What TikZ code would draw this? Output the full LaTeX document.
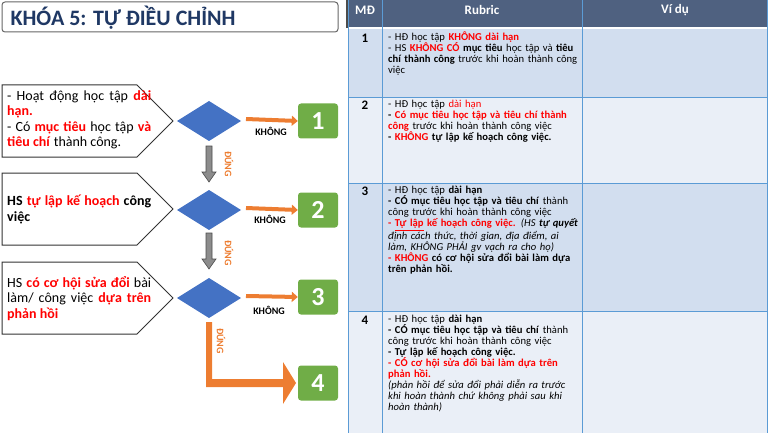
\documentclass[tikz,border=0pt]{standalone}
\usepackage{fontspec}
\setmainfont{Carlito}
\usetikzlibrary{arrows.meta}
\definecolor{hdr}{HTML}{4F6180}
\definecolor{rowA}{HTML}{D2DEEF}
\definecolor{rowB}{HTML}{EAEFF7}
\definecolor{tline}{HTML}{5B9BD5}
\definecolor{dia}{HTML}{4472C4}
\definecolor{grn}{HTML}{70AD47}
\definecolor{org}{HTML}{ED7D31}
\definecolor{ttl}{HTML}{1F3864}
\newcommand{\R}[1]{\textcolor{red}{\textbf{#1}}}
\tikzset{
 pent/.style={draw=black!80,line width=1pt,fill=white},
 dmd/.style={fill=dia},
 gbox/.style={fill=grn,rounded corners=3pt,minimum width=40pt,minimum height=35pt,text=white,font=\bfseries\fontsize{26}{26}\selectfont,inner sep=0pt},
 oarr/.style={org,line width=4pt,-{Triangle[length=6pt,width=10pt]}},
 garr/.style={draw=black!70,fill=black!45,line width=0.6pt},
 lbl/.style={font=\bfseries\fontsize{10}{10}\selectfont},
 olbl/.style={font=\bfseries\fontsize{10}{10}\selectfont,text=org,rotate=-90},
 cell/.style={anchor=north west,inner sep=0pt,text width=190pt,align=left,font=\fontsize{10.6}{11}\selectfont},
 btxt/.style={anchor=north west,inner sep=0pt,text width=144pt,align=justify,font=\fontsize{14}{15.5}\selectfont}
}
\begin{document}
\begin{tikzpicture}[x=1pt,y=-1pt]
\useasboundingbox (0,0) rectangle (768,433);
% title
\draw[black!60,line width=1pt,fill=white,rounded corners=3pt] (2,2) rectangle (338,32);
\node[anchor=west,text=ttl,font=\bfseries\fontsize{22}{22}\selectfont] (title) at (7,18) {KHÓA 5: TỰ ĐIỀU CHỈNH};
% table
\fill[hdr] (348,0) rectangle (768,28);
\fill[rowA] (348,28) rectangle (768,97);
\fill[rowB] (348,97) rectangle (768,183);
\fill[rowA] (348,183) rectangle (768,311);
\fill[rowB] (348,311) rectangle (768,433);
\draw[white,line width=1.5pt] (348,28)--(768,28);
\draw[tline,line width=0.8pt] (348,97)--(768,97) (348,183)--(768,183) (348,311)--(768,311);
\draw[tline,line width=0.8pt] (382,0)--(382,433) (582,0)--(582,433) (348,0)--(348,433) (767,0)--(767,433);
\draw[black!70,line width=2.5pt] (347,0)--(347,28);
\node[text=white,font=\bfseries\fontsize{13}{13}\selectfont] (h1) at (365,10) {MĐ};
\node[text=white,font=\bfseries\fontsize{13}{13}\selectfont] (h2) at (482,10) {Rubric};
\node[text=white,font=\bfseries\fontsize{13}{13}\selectfont] (h3) at (675,10) {Ví dụ};
\foreach \n/\y in {1/38,2/105,3/191,4/320}
  \node[font=\bfseries\fontsize{13}{13}\selectfont] (m\n) at (365,\y) {\n};
\node[cell] (c1) at (388,32) {- HĐ học tập \R{KHÔNG dài hạn}\\- HS \R{KHÔNG CÓ} \textbf{mục tiêu} học tập và \textbf{tiêu chí thành công} trước khi hoàn thành công việc};
\node[cell] (c2) at (388,100) {- HĐ học tập \textcolor{red}{dài hạn}\\\textbf{- }\R{Có mục tiêu học tập và tiêu chí thành công} trước khi hoàn thành công việc\\\textbf{- }\R{KHÔNG} \textbf{tự lập kế hoạch công việc.}};
\node[cell] (c3) at (388,186) {- HĐ học tập \textbf{dài hạn}\\\textbf{- CÓ mục tiêu học tập và tiêu chí} thành công trước khi hoàn thành công việc\\\R{- \underline{Tự lập} kế hoạch công việc.} \textit{(HS \textbf{tự quyết} định cách thức, thời gian, địa điểm, ai làm, KHÔNG PHẢI gv vạch ra cho họ)}\\\R{- KHÔNG} \textbf{có cơ hội sửa đổi bài làm dựa trên phản hồi.}};
\node[cell] (c4) at (388,315) {- HĐ học tập \textbf{dài hạn}\\\textbf{- CÓ mục tiêu học tập và tiêu chí} thành công trước khi hoàn thành công việc\\\textbf{- Tự lập kế hoạch công việc.}\\\R{- CÓ cơ hội sửa đổi bài làm dựa trên phản hồi.}\\\textit{(phản hồi để sửa đổi phải diễn ra trước khi hoàn thành chứ không phải sau khi hoàn thành)}};
% pentagons
\foreach \i/\t in {1/85,2/173,3/262}{
 \draw[pent] (2,\t) -- (137,\t) -- (173,\t+36) -- (137,\t+72) -- (2,\t+72) -- cycle;
}
\node[btxt] (b1) at (7,90) {- Hoạt động học tập \R{dài hạn.}\\- Có \R{mục tiêu} học tập \R{và tiêu chí} thành công.};
\node[btxt] (b2) at (7,195) {\textbf{HS} \R{tự lập kế hoạch} \textbf{công việc}};
\node[btxt] (b3) at (7,276) {HS \R{có cơ hội sửa đổi} bài làm/ công việc \R{dựa} \R{trên phản hồi}};
% diamonds
\foreach \i/\y in {1/121,2/210,3/298}{
 \fill[dmd] (177,\y) -- (209,\y-20) -- (241,\y) -- (209,\y+20) -- cycle;
 \coordinate (d\i) at (209,\y);
 \coordinate (dr\i) at (246,\y-2);
}
\node[gbox] (g1) at (318,121) {1};
\node[gbox] (g2) at (318,210) {2};
\node[gbox] (g3) at (318,297) {3};
\node[gbox] (g4) at (318,383) {4};
\draw[oarr] (dr1) -- (g1.west);
\draw[oarr] (dr2) -- (g2.west);
\draw[oarr] (dr3) -- (g3.west);
\node[lbl] (k1) at (271,131) {KHÔNG};
\node[lbl] (k2) at (270,219) {KHÔNG};
\node[lbl] (k3) at (269,310) {KHÔNG};
% grey arrows
\foreach \a in {146,233}{
 \draw[garr] (206,\a) -- (212,\a) -- (212,\a+26) -- (216,\a+26) -- (209,\a+36) -- (202,\a+26) -- (206,\a+26) -- cycle;
}
\node[olbl] (u1) at (229,164) {ĐÚNG};
\node[olbl] (u2) at (229,253) {ĐÚNG};
\node[olbl] (u3) at (221,341) {ĐÚNG};
% big L arrow
\fill[org] (206,322) -- (212,322) -- (212,379) -- (283,379) -- (283,362) -- (296,383) -- (283,404) -- (283,387) -- (206,387) -- cycle;
\end{tikzpicture}
\end{document}
